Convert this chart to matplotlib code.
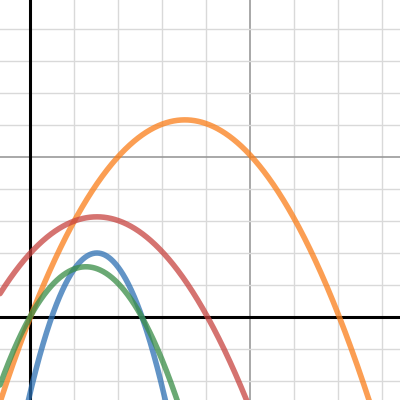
import matplotlib
matplotlib.use("Agg")
import matplotlib.pyplot as plt
import numpy as np

# parabolas y = -a * (x - h)^2 + k
names = ["orange", "red", "blue", "green"]
a_vals = [0.50, 0.495, 1.9, 0.97]
h_vals = [3.52, 1.52, 1.52, 1.27]
k_vals = [6.16, 3.13, 2.0, 1.57]
colors = ["#fa7e19", "#c74440", "#2d70b3", "#388c46"]

fig = plt.figure(figsize=(4, 4), dpi=100)
ax = fig.add_axes([0, 0, 1, 1])
xmin, xmax = -30 / 44, 370 / 44
ymin, ymax = -83 / 32, 317 / 32
ax.set_xlim(xmin, xmax)
ax.set_ylim(ymin, ymax)

# grid
for gx in range(-1, 10):
    if gx == 0:
        continue
    ax.axvline(gx, color="#999999" if gx % 5 == 0 else "#d9d9d9",
               lw=1.2 if gx % 5 == 0 else 1.0, zorder=0)
for gy in range(-3, 11):
    if gy == 0:
        continue
    ax.axhline(gy, color="#999999" if gy % 5 == 0 else "#d9d9d9",
               lw=1.2 if gy % 5 == 0 else 1.0, zorder=0)
ax.axvline(0, color="black", lw=2.2, zorder=1)
ax.axhline(0, color="black", lw=2.2, zorder=1)

x = np.linspace(xmin, xmax, 800)
for name, a, h, k, c in zip(names, a_vals, h_vals, k_vals, colors):
    ax.plot(x, -a * (x - h) ** 2 + k, color=c, lw=4, alpha=0.75,
            solid_capstyle="round", zorder=2)

ax.axis("off")
fig.savefig("out.png", dpi=100)
